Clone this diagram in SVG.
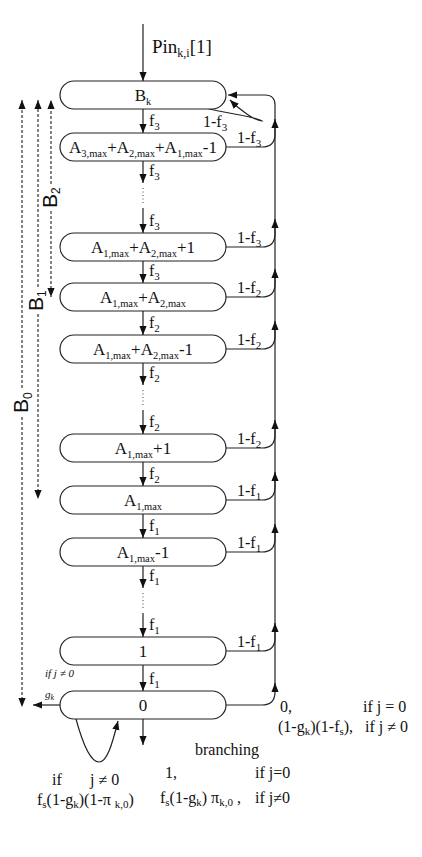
<svg xmlns="http://www.w3.org/2000/svg" width="422" height="857" viewBox="0 0 422 857">
<style>
.node{fill:#fff;stroke:#222;stroke-width:1.2}
.t{font-family:"Liberation Serif","Times New Roman",serif;font-size:17px;fill:#111}
.c{text-anchor:middle}
.s{font-size:10.5px}
.l{font-family:"Liberation Serif","Times New Roman",serif;font-size:16px;fill:#111}
.ls{font-size:11px}
.ln{fill:none;stroke:#222;stroke-width:1.2}
.d{fill:none;stroke:#222;stroke-width:1.1;stroke-dasharray:3 2}
.dot{fill:none;stroke:#444;stroke-width:1;stroke-dasharray:1 2.5}
.B{font-family:"Liberation Sans",Arial,sans-serif;font-size:21px;fill:#111}
.it{font-family:"Liberation Serif","Times New Roman",serif;font-style:italic;font-size:11px;fill:#111}
</style>
<defs>
<marker id="ah" viewBox="0 0 10 10" refX="10" refY="5" markerWidth="9" markerHeight="9" orient="auto-start-reverse" markerUnits="userSpaceOnUse"><path d="M0,1 L10,5 L0,9 z" fill="#111" stroke="none"/></marker>
</defs>
<rect width="422" height="857" fill="#fff"/>

<g id="connectors">
<path class="ln" d="M143,24 V81" marker-end="url(#ah)"/>
<path class="ln" d="M143,109 V133" marker-end="url(#ah)"/>
<path class="ln" d="M143,161 V183" marker-end="url(#ah)"/>
<path class="dot" d="M143,188 V205"/>
<path class="ln" d="M143,208 V233" marker-end="url(#ah)"/>
<path class="ln" d="M143,261 V283" marker-end="url(#ah)"/>
<path class="ln" d="M143,311 V335" marker-end="url(#ah)"/>
<path class="ln" d="M143,363 V385" marker-end="url(#ah)"/>
<path class="dot" d="M143,390 V407"/>
<path class="ln" d="M143,410 V434" marker-end="url(#ah)"/>
<path class="ln" d="M143,462 V486" marker-end="url(#ah)"/>
<path class="ln" d="M143,514 V538" marker-end="url(#ah)"/>
<path class="ln" d="M143,566 V588" marker-end="url(#ah)"/>
<path class="dot" d="M143,593 V610"/>
<path class="ln" d="M143,613 V637" marker-end="url(#ah)"/>
<path class="ln" d="M143,665 V691" marker-end="url(#ah)"/>
<path class="ln" d="M143,719 V745" marker-end="url(#ah)"/>

<path class="ln" d="M275,692 V105 Q275,95 265,95 H228" marker-end="url(#ah)"/>
<path class="ln" d="M226,147 H262 Q275,147 275,134 V119" marker-end="url(#ah)"/>
<path class="ln" d="M226,247 H262 Q275,247 275,234 V219" marker-end="url(#ah)"/>
<path class="ln" d="M226,297 H262 Q275,297 275,284 V269" marker-end="url(#ah)"/>
<path class="ln" d="M226,349 H262 Q275,349 275,336 V321" marker-end="url(#ah)"/>
<path class="ln" d="M226,448 H262 Q275,448 275,435 V420" marker-end="url(#ah)"/>
<path class="ln" d="M226,500 H262 Q275,500 275,487 V472" marker-end="url(#ah)"/>
<path class="ln" d="M226,552 H262 Q275,552 275,539 V524" marker-end="url(#ah)"/>
<path class="ln" d="M226,651 H262 Q275,651 275,638 V623" marker-end="url(#ah)"/>
<path class="ln" d="M226,705 H262 Q275,705 275,692 V683" marker-end="url(#ah)"/>

<path class="ln" d="M205,108 C230,114 258,117 262,121 C255,121 240,110 230,100" marker-end="url(#ah)"/>
<path class="ln" d="M76,719 C85,752 93,762 99,762 C107,762 112,745 118,721" marker-end="url(#ah)"/>
<path class="ln" d="M60,705 H33" marker-end="url(#ah)"/>

<path class="d" d="M22,388 V100" marker-end="url(#ah)"/>
<path class="d" d="M22,417 V707" marker-end="url(#ah)"/>
<path class="d" d="M38,287 V100" marker-end="url(#ah)"/>
<path class="d" d="M38,314 V499" marker-end="url(#ah)"/>
<path class="d" d="M51,184 V100" marker-end="url(#ah)"/>
<path class="d" d="M51,211 V297" marker-end="url(#ah)"/>
</g>

<g id="n-Bk"><rect class="node" x="60" y="81" width="166" height="28" rx="14"/><text class="t c" x="143" y="101">B<tspan class="s" dy="4">k</tspan></text></g>
<g id="n-A3A2A1m1"><rect class="node" x="60" y="133" width="166" height="28" rx="14"/><text class="t c" x="143" y="153">A<tspan class="s" dy="4">3,max</tspan><tspan dy="-4">+A</tspan><tspan class="s" dy="4">2,max</tspan><tspan dy="-4">+A</tspan><tspan class="s" dy="4">1,max</tspan><tspan dy="-4">-1</tspan></text></g>
<g id="n-A1A2p1"><rect class="node" x="60" y="233" width="166" height="28" rx="14"/><text class="t c" x="143" y="253">A<tspan class="s" dy="4">1,max</tspan><tspan dy="-4">+A</tspan><tspan class="s" dy="4">2,max</tspan><tspan dy="-4">+1</tspan></text></g>
<g id="n-A1A2"><rect class="node" x="60" y="283" width="166" height="28" rx="14"/><text class="t c" x="143" y="303">A<tspan class="s" dy="4">1,max</tspan><tspan dy="-4">+A</tspan><tspan class="s" dy="4">2,max</tspan></text></g>
<g id="n-A1A2m1"><rect class="node" x="60" y="335" width="166" height="28" rx="14"/><text class="t c" x="143" y="355">A<tspan class="s" dy="4">1,max</tspan><tspan dy="-4">+A</tspan><tspan class="s" dy="4">2,max</tspan><tspan dy="-4">-1</tspan></text></g>
<g id="n-A1p1"><rect class="node" x="60" y="434" width="166" height="28" rx="14"/><text class="t c" x="143" y="454">A<tspan class="s" dy="4">1,max</tspan><tspan dy="-4">+1</tspan></text></g>
<g id="n-A1"><rect class="node" x="60" y="486" width="166" height="28" rx="14"/><text class="t c" x="143" y="506">A<tspan class="s" dy="4">1,max</tspan></text></g>
<g id="n-A1m1"><rect class="node" x="60" y="538" width="166" height="28" rx="14"/><text class="t c" x="143" y="558">A<tspan class="s" dy="4">1,max</tspan><tspan dy="-4">-1</tspan></text></g>
<g id="n-1"><rect class="node" x="60" y="637" width="166" height="28" rx="14"/><text class="t c" x="143" y="657">1</text></g>
<g id="n-0"><rect class="node" x="60" y="691" width="166" height="28" rx="14"/><text class="t c" x="143" y="711">0</text></g>

<g id="labels">
<text class="t" x="152" y="53" style="font-size:19px">Pin<tspan style="font-size:12px" dy="4">k,i</tspan><tspan dy="-4">[1]</tspan></text>
<text class="l" x="149" y="126">f<tspan class="ls" dy="4">3</tspan></text>
<text class="l" x="149" y="176">f<tspan class="ls" dy="4">3</tspan></text>
<text class="l" x="149" y="226">f<tspan class="ls" dy="4">3</tspan></text>
<text class="l" x="149" y="276">f<tspan class="ls" dy="4">3</tspan></text>
<text class="l" x="149" y="328">f<tspan class="ls" dy="4">2</tspan></text>
<text class="l" x="149" y="378">f<tspan class="ls" dy="4">2</tspan></text>
<text class="l" x="149" y="427">f<tspan class="ls" dy="4">2</tspan></text>
<text class="l" x="149" y="479">f<tspan class="ls" dy="4">2</tspan></text>
<text class="l" x="149" y="531">f<tspan class="ls" dy="4">1</tspan></text>
<text class="l" x="149" y="581">f<tspan class="ls" dy="4">1</tspan></text>
<text class="l" x="149" y="630">f<tspan class="ls" dy="4">1</tspan></text>
<text class="l" x="149" y="684">f<tspan class="ls" dy="4">1</tspan></text>

<text class="l" x="203" y="127">1-f<tspan class="ls" dy="4">3</tspan></text>
<text class="l" x="237" y="143">1-f<tspan class="ls" dy="4">3</tspan></text>
<text class="l" x="237" y="243">1-f<tspan class="ls" dy="4">3</tspan></text>
<text class="l" x="237" y="293">1-f<tspan class="ls" dy="4">2</tspan></text>
<text class="l" x="237" y="345">1-f<tspan class="ls" dy="4">2</tspan></text>
<text class="l" x="237" y="444">1-f<tspan class="ls" dy="4">2</tspan></text>
<text class="l" x="237" y="496">1-f<tspan class="ls" dy="4">1</tspan></text>
<text class="l" x="237" y="548">1-f<tspan class="ls" dy="4">1</tspan></text>
<text class="l" x="237" y="647">1-f<tspan class="ls" dy="4">1</tspan></text>

<text class="it" x="45" y="677">if  j ≠ 0</text>
<text class="it" x="45" y="698">g<tspan style="font-size:8px" dy="2">k</tspan></text>

<text class="B" transform="translate(28,413) rotate(-90)">B<tspan style="font-size:12px" dy="4">0</tspan></text>
<text class="B" transform="translate(43,311) rotate(-90)">B<tspan style="font-size:12px" dy="3">1</tspan></text>
<text class="B" transform="translate(57,208) rotate(-90)">B<tspan style="font-size:12px" dy="3">2</tspan></text>

<text class="l" x="280" y="712">0,</text>
<text class="l" x="363" y="712">if  j = 0</text>
<text class="l" x="278" y="732">(1-g<tspan class="ls" dy="3">k</tspan><tspan dy="-3">)(1-f</tspan><tspan class="ls" dy="3">s</tspan><tspan dy="-3">),</tspan></text>
<text class="l" x="365" y="732">if  j ≠ 0</text>
<text class="l" x="195" y="755">branching</text>

<text class="l" x="52" y="785">if</text>
<text class="l" x="90" y="785">j ≠ 0</text>
<text class="l" x="37" y="805">f<tspan class="ls" dy="3">s</tspan><tspan dy="-3">(1-g</tspan><tspan class="ls" dy="3">k</tspan><tspan dy="-3">)(1-π </tspan><tspan class="ls" dy="3">k,0</tspan><tspan dy="-3">)</tspan></text>
<text class="l" x="165" y="778">1,</text>
<text class="l" x="255" y="778">if j=0</text>
<text class="l" x="160" y="803">f<tspan class="ls" dy="3">s</tspan><tspan dy="-3">(1-g</tspan><tspan class="ls" dy="3">k</tspan><tspan dy="-3">) π</tspan><tspan class="ls" dy="3">k,0</tspan><tspan dy="-3"> ,</tspan></text>
<text class="l" x="255" y="803">if j≠0</text>
</g>
</svg>
